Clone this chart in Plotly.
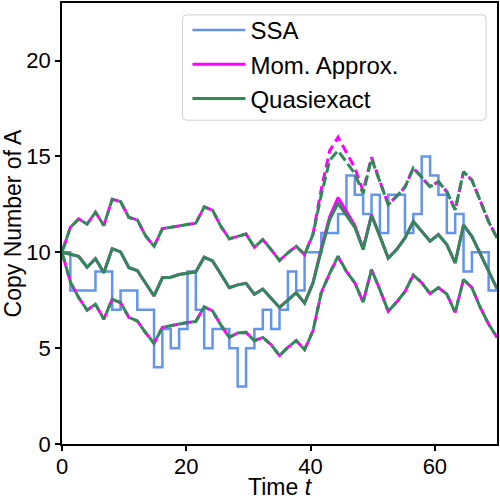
import plotly.graph_objects as go

# Time grid
time = [0, 1.346, 2.692, 4.038, 5.385, 6.731, 8.077, 9.423, 10.769, 12.115,
        13.462, 14.808, 16.154, 17.5, 18.846, 20.192, 21.538, 22.885, 24.231, 25.577,
        26.923, 28.269, 29.615, 30.962, 32.308, 33.654, 35.0, 36.346, 37.692, 39.038,
        40.385, 41.731, 43.077, 44.423, 45.769, 47.115, 48.462, 49.808, 51.154, 52.5,
        53.846, 55.192, 56.538, 57.885, 59.231, 60.577, 61.923, 63.269, 64.615, 65.962,
        67.308, 68.654, 70.0]

ssa = [10, 8, 8, 8, 9, 9, 7, 8, 8, 7,
       7, 4, 6, 5, 6, 9, 7, 5, 6, 6,
       5, 3, 5, 6, 7, 6, 7, 9, 8, 10,
       10, 11, 11, 12, 14, 13, 12, 13, 11, 13,
       13, 11, 12, 15, 14, 13, 11, 12, 9, 10,
       10, 8, 8]

quasi_mean = [10.0, 9.9, 9.79, 9.22, 9.67, 8.93, 10.19, 10.02, 9.19, 9.05,
              8.35, 7.72, 8.67, 8.70, 8.84, 8.93, 8.98, 9.74, 9.55, 8.85,
              8.15, 8.3, 8.38, 7.81, 8.08, 7.6, 7.12, 7.5, 7.89, 7.35,
              8.4, 10.1, 11.7, 12.55, 11.9, 11.3, 10.14, 11.92, 10.83, 9.69,
              10.14, 10.75, 11.61, 11.09, 10.58, 10.92, 10.4, 9.45, 11.42, 10.83,
              9.88, 9.02, 8.1]

quasi_upper = [10.0, 11.3, 11.74, 11.47, 12.09, 11.40, 12.76, 12.64, 11.81, 11.69,
               10.85, 10.31, 11.23, 11.30, 11.40, 11.47, 11.52, 12.36, 12.19, 11.35,
               10.7, 10.83, 10.95, 10.26, 10.66, 10.14, 9.57, 9.97, 10.31, 9.88,
               10.92, 13.0, 14.8, 15.3, 14.7, 14.1, 13.07, 14.89, 13.68, 12.48,
               12.92, 13.4, 14.4, 13.89, 13.42, 13.68, 13.16, 12.21, 14.2, 13.76,
               12.64, 11.6, 10.74]

quasi_lower = [10.0, 8.45, 7.63, 6.98, 7.29, 6.51, 7.55, 7.37, 6.6, 6.42,
               5.8, 5.25, 6.08, 6.17, 6.29, 6.34, 6.39, 7.15, 6.94, 6.2,
               5.56, 5.79, 5.82, 5.39, 5.56, 5.18, 4.61, 5.04, 5.39, 4.92,
               5.9, 7.9, 8.9, 9.8, 9.0, 8.41, 7.4, 9.1, 8.05, 6.92,
               7.4, 7.95, 8.81, 8.41, 7.84, 8.15, 7.82, 6.86, 8.58, 8.15,
               7.12, 6.25, 5.56]

mom_mean = [10.0, 9.9, 9.79, 9.22, 9.67, 8.93, 10.19, 10.02, 9.19, 9.05,
            8.35, 7.72, 8.67, 8.70, 8.84, 8.93, 8.98, 9.74, 9.55, 8.85,
            8.15, 8.3, 8.38, 7.81, 8.08, 7.6, 7.12, 7.5, 7.89, 7.35,
            8.4, 10.2, 11.85, 12.85, 12.1, 11.4, 10.2, 11.95, 10.85, 9.7,
            10.14, 10.75, 11.61, 11.09, 10.58, 10.92, 10.4, 9.45, 11.42, 10.83,
            9.88, 9.02, 8.1]

mom_upper = [10.0, 11.3, 11.74, 11.47, 12.09, 11.40, 12.76, 12.64, 11.81, 11.69,
             10.85, 10.31, 11.23, 11.30, 11.40, 11.47, 11.52, 12.36, 12.19, 11.35,
             10.7, 10.83, 10.95, 10.26, 10.66, 10.14, 9.57, 9.97, 10.31, 9.88,
             10.95, 13.3, 15.3, 16.0, 15.2, 14.4, 13.2, 14.95, 13.7, 12.5,
             12.92, 13.4, 14.4, 13.89, 13.42, 13.68, 13.16, 12.21, 14.2, 13.76,
             12.64, 11.6, 10.74]

mom_lower = [10.0, 8.45, 7.63, 6.98, 7.29, 6.51, 7.55, 7.37, 6.6, 6.42,
             5.8, 5.25, 6.08, 6.17, 6.29, 6.34, 6.39, 7.15, 6.94, 6.2,
             5.56, 5.79, 5.82, 5.39, 5.56, 5.18, 4.61, 5.04, 5.39, 4.92,
             5.9, 7.9, 8.9, 9.75, 9.0, 8.41, 7.4, 9.1, 8.05, 6.92,
             7.4, 7.95, 8.81, 8.41, 7.84, 8.15, 7.82, 6.86, 8.58, 8.15,
             7.12, 6.25, 5.56]

BLUE = "#6495ED"
MAG = "#FF00FF"
GREEN = "#2E8B57"

fig = go.Figure()

fig.add_trace(go.Scatter(x=time, y=ssa, mode="lines", name="SSA",
                         line=dict(color=BLUE, width=2.5, shape="hv"),
                         legendgroup="a"))

# Moment approximation
fig.add_trace(go.Scatter(x=time, y=mom_mean, mode="lines", name="Mom. Approx.",
                         line=dict(color=MAG, width=3), legendgroup="b"))
for band in (mom_upper, mom_lower):
    fig.add_trace(go.Scatter(x=time, y=band, mode="lines", showlegend=False,
                             line=dict(color=MAG, width=3, dash="0px,5px,9px,0px")))

# Quasiexact
fig.add_trace(go.Scatter(x=time, y=quasi_mean, mode="lines", name="Quasiexact",
                         line=dict(color=GREEN, width=3), legendgroup="c"))
for band in (quasi_upper, quasi_lower):
    fig.add_trace(go.Scatter(x=time, y=band, mode="lines", showlegend=False,
                             line=dict(color=GREEN, width=3, dash="10px,4px")))

axis_common = dict(showline=True, linecolor="black", linewidth=1.5, mirror=True,
                   ticks="outside", ticklen=5, tickwidth=1.5, tickcolor="black",
                   showgrid=False, zeroline=False,
                   tickfont=dict(size=22, color="black"))

# legend frame (rounded box) in paper coordinates
bx0, bx1 = (183 - 62) / 437, (488 - 62) / 437
by0, by1 = (444 - 118) / 444, (444 - 12) / 444
rx, ry = 4 / 437, 4 / 444
frame_path = (f"M {bx0+rx},{by0} L {bx1-rx},{by0} Q {bx1},{by0} {bx1},{by0+ry} "
              f"L {bx1},{by1-ry} Q {bx1},{by1} {bx1-rx},{by1} "
              f"L {bx0+rx},{by1} Q {bx0},{by1} {bx0},{by1-ry} "
              f"L {bx0},{by0+ry} Q {bx0},{by0} {bx0+rx},{by0} Z")

fig.update_layout(
    width=500, height=500,
    margin=dict(l=62, r=1, t=1, b=56),
    paper_bgcolor="white", plot_bgcolor="white",
    font=dict(family="Liberation Sans, Arial, sans-serif", color="black"),
    xaxis=dict(range=[0, 70], tickvals=[0, 20, 40, 60], ticklabelstandoff=-3,
               title=dict(text="Time <i>t</i>", font=dict(size=23), standoff=0),
               **axis_common),
    yaxis=dict(range=[0, 23], tickvals=[0, 5, 10, 15, 20],
               title=dict(text="Copy Number of A", font=dict(size=23), standoff=4),
               **axis_common),
    shapes=[dict(type="path", xref="paper", yref="paper", path=frame_path,
                 fillcolor="white", line=dict(color="#D0D0D0", width=1),
                 layer="above")],
    legend=dict(x=(188 - 62) / 437, y=(444 - 5) / 444, xanchor="left", yanchor="top",
                bgcolor="rgba(0,0,0,0)", borderwidth=0, itemwidth=53,
                font=dict(size=24, color="black"), traceorder="grouped",
                tracegroupgap=0),
    showlegend=True,
)

fig.write_html("out.html")
